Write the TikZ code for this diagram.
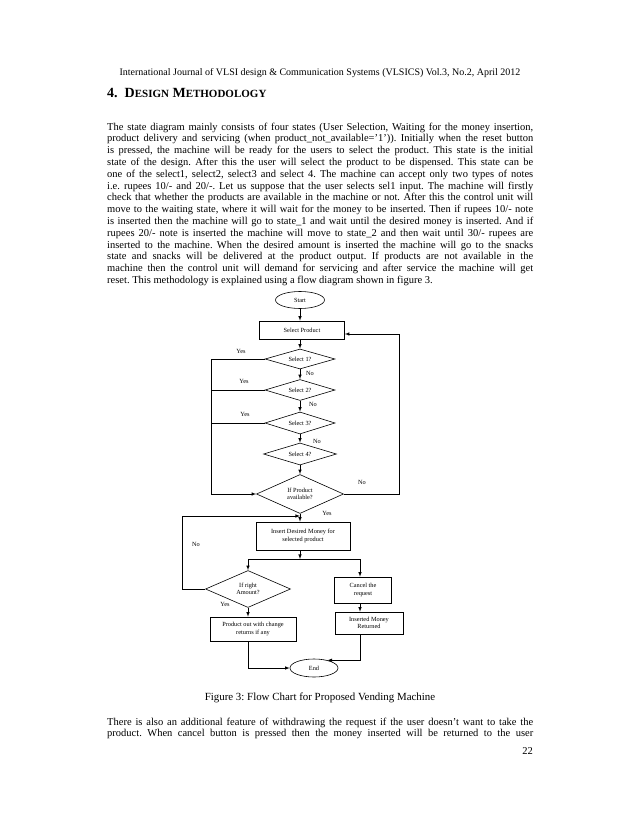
\documentclass[tikz,border=0pt]{standalone}
\usepackage{fontspec}
\setmainfont{Liberation Serif}
\usetikzlibrary{arrows,shapes}
\frenchspacing
\tikzstyle{tstate}=[ellipse,draw=black,line width=0.6pt,inner sep=0pt]
\tikzstyle{pstep}=[rectangle,draw=black,line width=0.6pt,inner sep=0pt,align=center]
\tikzstyle{dtest}=[diamond,aspect=3,draw=black,line width=0.6pt,inner sep=0pt,align=center]
\tikzstyle{fline}=[->,line width=0.6pt,>=latex]
\tikzstyle{flab}=[inner sep=0pt]
\tikzstyle{ptext}=[inner sep=0pt,align=justify,font=\fontsize{10.5}{11.8}\selectfont\frenchspacing]
\newcommand{\jline}[1]{\noindent\makebox[426pt][s]{#1}\par}

\begin{document}
\begin{tikzpicture}[x=1pt,y=-1pt,font=\fontsize{6.3}{7.4}\selectfont]
\useasboundingbox[fill=white] (0,0) rectangle (638,826);
% page text
\node[inner sep=0pt,anchor=base,font=\fontsize{10}{12}\selectfont] (header) at (320,76) {International Journal of VLSI design \& Communication Systems (VLSICS) Vol.3, No.2, April 2012};
\node[inner sep=0pt,anchor=base west,font=\fontsize{14}{16}\selectfont\bfseries] (heading) at (107,98) {4.\hspace{7pt}D{\fontsize{11}{12}\selectfont ESIGN} M{\fontsize{11}{12}\selectfont ETHODOLOGY}};
\node[ptext,anchor=north west,text width=426pt] (para) at (107,122.5) {%
\jline{The state diagram mainly consists of four states (User Selection, Waiting for the money insertion,}
\jline{product delivery and servicing (when product\_not\_available=’1’)). Initially when the reset button}
\jline{is pressed, the machine will be ready for the users to select the product. This state is the initial}
\jline{state of the design. After this the user will select the product to be dispensed. This state can be}
\jline{one of the select1, select2, select3 and select 4. The machine can accept only two types of notes}
\jline{i.e. rupees 10/- and 20/-. Let us suppose that the user selects sel1 input. The machine will firstly}
\jline{check that whether the products are available in the machine or not. After this the control unit will}
\jline{move to the waiting state, where it will wait for the money to be inserted. Then if rupees 10/- note}
\jline{is inserted then the machine will go to state\_1 and wait until the desired money is inserted. And if}
\jline{rupees 20/- note is inserted the machine will move to state\_2 and then wait until 30/- rupees are}
\jline{inserted to the machine. When the desired amount is inserted the machine will go to the snacks}
\jline{state and snacks will be delivered at the product output. If products are not available in the}
\jline{machine then the control unit will demand for servicing and after service the machine will get}
\noindent reset. This methodology is explained using a flow diagram shown in figure 3.};
\node[anchor=base,inner sep=0pt,font=\fontsize{10.9}{12}\selectfont] (caption) at (320,700) {Figure 3: Flow Chart for Proposed Vending Machine};
\node[ptext,anchor=north west,text width=426pt] (para2) at (107,717.5) {%
\jline{There is also an additional feature of withdrawing the request if the user doesn’t want to take the}
\jline{product. When cancel button is pressed then the money inserted will be returned to the user}};
\node[inner sep=0pt,anchor=base east,font=\fontsize{10.5}{12}\selectfont] (pagenum) at (533,754) {22};
% flow chart
\node[tstate,minimum width=49pt,minimum height=17pt] (start) at (300,300) {Start};
\node[pstep,minimum width=85pt,minimum height=18pt] (select) at (302,330) {Select Product};
\node[dtest,minimum width=70pt,minimum height=20pt] (sel1) at (300,359) {Select 1?};
\node[dtest,minimum width=70pt,minimum height=21pt] (sel2) at (300,390) {Select 2?};
\node[dtest,minimum width=70pt,minimum height=22pt] (sel3) at (300,423) {Select 3?};
\node[dtest,minimum width=73pt,minimum height=22pt] (sel4) at (300,454) {Select 4?};
\node[dtest,minimum width=87pt,minimum height=39pt] (avail) at (300,494) {If Product\\available?};
\node[pstep,minimum width=94pt,minimum height=28pt] (insert) at (303,536) {Insert Desired Money for\\selected product};
\node[dtest,minimum width=85pt,minimum height=37pt] (amount) at (248,589) {If right\\Amount?};
\node[pstep,minimum width=57pt,minimum height=26pt] (cancel) at (363,590) {Cancel the\\request};
\node[pstep,minimum width=86pt,minimum height=24pt] (prodout) at (253,629) {Product out with change\\returns if any};
\node[pstep,minimum width=68pt,minimum height=22pt] (returned) at (369,623) {Inserted Money\\Returned};
\node[tstate,minimum width=48pt,minimum height=18pt] (endn) at (314,668) {End};
\coordinate (yesrail) at (211,359);
\coordinate (norail) at (399,334);
\coordinate (retry) at (182,516);
\coordinate (splitL) at (248,559);
\coordinate (splitR) at (360,559);
% labels
\node[flab] (yes1) at (241,351) {Yes};
\node[flab] (yes2) at (244,381) {Yes};
\node[flab] (yes3) at (245,414) {Yes};
\node[flab] (no1) at (310,373) {No};
\node[flab] (no2) at (313,404) {No};
\node[flab] (no3) at (317,441) {No};
\node[flab] (noavail) at (362,482) {No};
\node[flab] (yesavail) at (327,513) {Yes};
\node[flab] (noamount) at (196,544) {No};
\node[flab] (yesamount) at (225,604) {Yes};
% connectors
\draw[fline] (start) -- (start |- select.north);
\draw[fline] (select.south -| sel1) -- (sel1);
\draw[fline] (sel1) -- (sel2);
\draw[fline] (sel2) -- (sel3);
\draw[fline] (sel3) -- (sel4);
\draw[fline] (sel4) -- (avail);
\draw[fline] (avail) -- (avail |- insert.north);
\draw[fline] (sel1.west) -- (yesrail) |- (avail.west);
\draw[fline,-] (sel2.west) -- (sel2.west -| yesrail);
\draw[fline,-] (sel3.west) -- (sel3.west -| yesrail);
\draw[fline] (avail.east) -| (norail) -- (norail -| select.east);
\draw[fline] (amount.west) -| (retry) -- (retry -| avail.south);
\draw[fline] (insert.south -| avail.south) -- (avail.south |- splitL);
\draw[fline,-] (splitL) -- (splitR);
\draw[fline] (splitL) -- (amount.north);
\draw[fline] (splitR) -- (splitR |- cancel.north);
\draw[fline] (amount.south) -- (amount.south |- prodout.north);
\draw[fline] (splitR |- cancel.south) -- (splitR |- returned.north);
\draw[fline] (amount.south |- prodout.south) |- (endn.west);
\draw[fline] (splitR |- returned.south) |- (endn.30);
\end{tikzpicture}
\end{document}
